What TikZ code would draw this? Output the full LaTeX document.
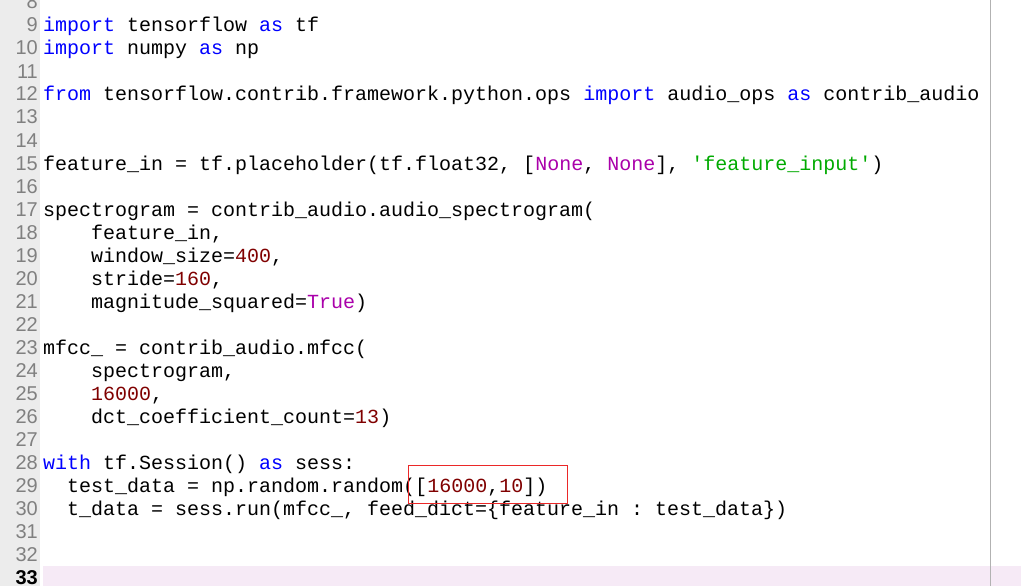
\documentclass[tikz,border=0pt]{standalone}
\usepackage{fontspec}
\setmonofont{Liberation Mono}
\setsansfont{Liberation Sans}
\definecolor{kwc}{RGB}{0,0,255}
\definecolor{strc}{RGB}{0,170,0}
\definecolor{numc}{RGB}{128,0,0}
\definecolor{purc}{RGB}{170,0,170}
\definecolor{gut}{RGB}{236,236,236}
\definecolor{lnc}{RGB}{128,128,128}
\definecolor{hl}{RGB}{246,234,246}
\definecolor{boxc}{RGB}{235,40,40}
\newcommand{\cKw}[1]{\textcolor{kwc}{#1}}
\newcommand{\cStr}[1]{\textcolor{strc}{#1}}
\newcommand{\cNum}[1]{\textcolor{numc}{#1}}
\newcommand{\cPur}[1]{\textcolor{purc}{#1}}
\begin{document}
\begin{tikzpicture}[x=1pt,y=-1pt,
  code/.style={anchor=base west,inner sep=0pt,font=\fontsize{20}{23}\selectfont\ttfamily},
  lnum/.style={anchor=base east,inner sep=0pt,text=lnc,font=\fontsize{20}{23}\selectfont\sffamily}]
\useasboundingbox (0,0) rectangle (1021,586);
\fill[white] (0,0) rectangle (1021,586);
\fill[gut] (0,0) rectangle (40,586);
\fill[hl] (43,566) rectangle (1021,586);
\draw[black!30] (990.5,0) -- (990.5,586);
\foreach \n in {8,...,32} {
  \node[lnum] (ln\n) at (38,{25+(\n-9)*23+7}) {\n};
}
\node[lnum,text=black,font=\fontsize{20}{23}\selectfont\sffamily\bfseries] (ln33) at (38,{25+24*23+7}) {33};
\newcommand{\Y}[1]{{25+(#1-9)*23+7}}
\node[code] (c9) at (43,\Y{9}) {\cKw{import} tensorflow \cKw{as} tf};
\node[code] (c10) at (43,\Y{10}) {\cKw{import} numpy \cKw{as} np};
\node[code] (c12) at (43,\Y{12}) {\cKw{from} tensorflow.contrib.framework.python.ops \cKw{import} audio\_ops \cKw{as} contrib\_audio};
\node[code] (c15) at (43,\Y{15}) {feature\_in = tf.placeholder(tf.float32, [\cPur{None}, \cPur{None}], \cStr{'feature\_input'})};
\node[code] (c17) at (43,\Y{17}) {spectrogram = contrib\_audio.audio\_spectrogram(};
\node[code] (c18) at (43,\Y{18}) {~~~~feature\_in,};
\node[code] (c19) at (43,\Y{19}) {~~~~window\_size=\cNum{400},};
\node[code] (c20) at (43,\Y{20}) {~~~~stride=\cNum{160},};
\node[code] (c21) at (43,\Y{21}) {~~~~magnitude\_squared=\cPur{True})};
\node[code] (c23) at (43,\Y{23}) {mfcc\_ = contrib\_audio.mfcc(};
\node[code] (c24) at (43,\Y{24}) {~~~~spectrogram,};
\node[code] (c25) at (43,\Y{25}) {~~~~\cNum{16000},};
\node[code] (c26) at (43,\Y{26}) {~~~~dct\_coefficient\_count=\cNum{13})};
\node[code] (c28) at (43,\Y{28}) {\cKw{with} tf.Session() \cKw{as} sess:};
\node[code] (c29) at (43,\Y{29}) {~~test\_data = np.random.random([\cNum{16000},\cNum{10}])};
\node[code] (c30) at (43,\Y{30}) {~~t\_data = sess.run(mfcc\_, feed\_dict=\{feature\_in : test\_data\})};
\draw[boxc] (408.5,465.5) rectangle (567.5,503.5);
\end{tikzpicture}
\end{document}
